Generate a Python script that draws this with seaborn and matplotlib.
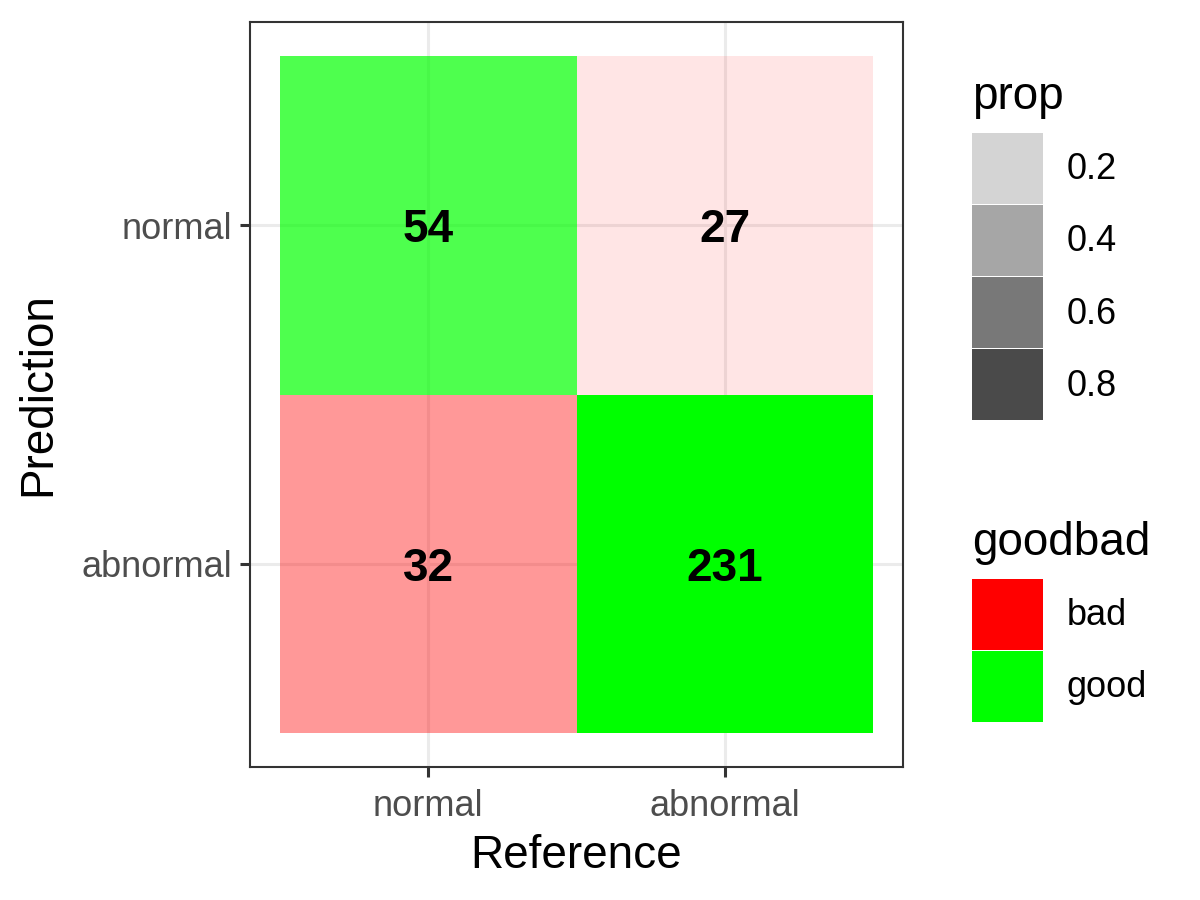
import numpy as np
import pandas as pd
import seaborn as sns
from matplotlib import pyplot as plt
from matplotlib.colors import ListedColormap, to_rgb
from matplotlib.patches import Patch

# confusion matrix values
pred_labels = ['normal', 'abnormal']
ref_labels = ['normal', 'abnormal']
counts = [[54, 27],
          [32, 231]]
goodbad = [['good', 'bad'],
           ['bad', 'good']]
prop_breaks = [0.2, 0.4, 0.6, 0.8]

sns.set_theme(style='white')
plt.rcParams['font.family'] = ['Liberation Sans', 'DejaVu Sans']
plt.rcParams['text.color'] = 'black'

counts_arr = np.array(counts)
# proportion within each reference column
prop = counts_arr / counts_arr.sum(axis=0)


def to_alpha(p):
    # ggplot scale_alpha default range (0.1, 1)
    return 0.1 + 0.9 * (p - prop.min()) / (prop.max() - prop.min())


fill = {'bad': '#FF0000', 'good': '#00FF00'}
cell_colors = []
codes = np.zeros_like(counts_arr)
for i in range(2):
    for j in range(2):
        codes[i, j] = len(cell_colors)
        cell_colors.append((*to_rgb(fill[goodbad[i][j]]), to_alpha(prop[i, j])))

df_counts = pd.DataFrame(codes, index=pred_labels, columns=ref_labels)

fig = plt.figure(figsize=(12, 9), dpi=100)
ax = fig.add_axes([250 / 1200, 1 - 767 / 900, 653 / 1200, 745 / 900])
ax.set_axisbelow(True)

sns.heatmap(df_counts, cmap=ListedColormap(cell_colors), vmin=-0.5, vmax=3.5,
            annot=counts_arr, fmt='d', cbar=False, ax=ax,
            annot_kws={'color': 'black', 'fontsize': 33, 'fontweight': 'bold',
                       'va': 'center_baseline'})

ax.set_xlim(-0.1, 2.1)
ax.set_ylim(2.1, -0.1)
ax.grid(True, color='#EBEBEB', linewidth=2.2)
for sp in ax.spines.values():
    sp.set_visible(True)
    sp.set_color('#333333')
    sp.set_linewidth(1.5)
ax.tick_params(axis='both', length=7, width=2.2, color='#333333',
               labelcolor='#4D4D4D', labelsize=26, bottom=True, left=True)
ax.tick_params(axis='x', pad=8.5)
ax.tick_params(axis='y', pad=6)
plt.setp(ax.get_xticklabels(), rotation=0)
plt.setp(ax.get_yticklabels(), rotation=0, va='center_baseline')
ax.set_xlabel('Reference', fontsize=33, color='black', labelpad=7.5)
ax.set_ylabel('Prediction', fontsize=33, color='black', labelpad=15)

# legends
grey = np.array(to_rgb('#333333'))
legend_kw = dict(loc='upper left', frameon=False, fontsize=26, title_fontsize=33,
                 alignment='left', handlelength=1.97, handleheight=2.65,
                 labelspacing=0.03, handletextpad=0.65, borderpad=0, borderaxespad=0,
                 labelcolor='black')
prop_handles = [Patch(facecolor=(*grey, to_alpha(b)), edgecolor='none') for b in prop_breaks]
leg1 = fig.legend(prop_handles, [f'{b:.1f}' for b in prop_breaks], title='prop',
                  bbox_to_anchor=(972 / 1200, 1 - 75 / 900), **legend_kw)
gb_handles = [Patch(facecolor=fill[k], edgecolor='none') for k in ['bad', 'good']]
leg2 = fig.legend(gb_handles, ['bad', 'good'], title='goodbad',
                  bbox_to_anchor=(972 / 1200, 1 - 521 / 900), **legend_kw)
# more room between legend title and keys
for leg in (leg1, leg2):
    leg._legend_box.sep = 10
    leg.get_title().set_color('black')

plt.savefig('out.png')
plt.close()
